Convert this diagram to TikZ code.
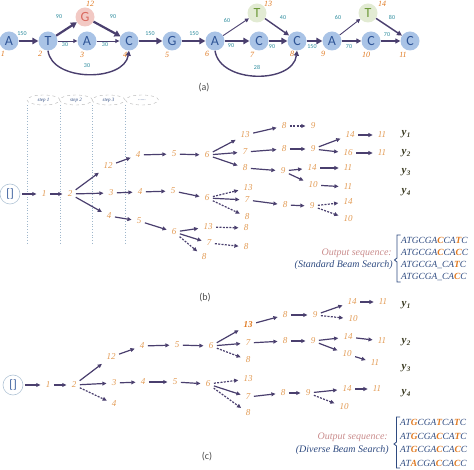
\documentclass[tikz,border=0pt]{standalone}
\usepackage{fontspec}
\setmainfont{Liberation Serif}
\newfontfamily\sansf{Carlito}
\usetikzlibrary{arrows.meta,shapes.geometric}
\definecolor{cfill}{HTML}{A9C3E6}
\definecolor{cletter}{HTML}{2F5597}
\definecolor{gfill}{HTML}{F2C9C4}
\definecolor{gletter}{HTML}{D9695F}
\definecolor{tfill}{HTML}{E2EBD3}
\definecolor{tletter}{HTML}{6E9A3A}
\definecolor{carrow}{HTML}{4A3F6E}
\definecolor{cteal}{HTML}{2A8A9C}
\definecolor{cidx}{HTML}{E07A22}
\definecolor{cnum}{HTML}{E29B55}
\definecolor{cyl}{HTML}{3A3A22}
\definecolor{cseq}{HTML}{2E4A80}
\definecolor{crose}{HTML}{C98C8C}
\definecolor{cstep}{HTML}{9FB7CC}
\newcommand\oc[1]{{\bfseries\color{cidx}#1}}
\newcommand\ysub[1]{{\bfseries\itshape y\kern0.3pt\raisebox{-2pt}{\fontsize{7}{7}\selectfont #1}}}
\tikzset{
 base/.style={circle, fill=cfill, minimum size=19pt, inner sep=0pt, font=\sansf\fontsize{14}{14}\selectfont, text=cletter},
 gbase/.style={base, fill=gfill, text=gletter},
 tbase/.style={base, fill=tfill, text=tletter},
 idx/.style={font=\itshape\fontsize{8}{8}\selectfont, text=cidx, inner sep=0pt},
 wt/.style={font=\sansf\fontsize{6}{6}\selectfont, text=cteal, inner sep=0pt},
 wA/.style={draw=carrow, line width=2.2pt, -{Triangle[length=6pt,width=6.5pt]}},
 wB/.style={draw=carrow, line width=1.4pt, -{Triangle[length=5pt,width=5pt]}},
 wC/.style={draw=carrow, line width=0.9pt, -{Triangle[length=4pt,width=4pt]}},
 num/.style={font=\itshape\fontsize{9}{9}\selectfont, text=cnum, inner sep=2pt},
 bnum/.style={num, font=\bfseries\itshape\fontsize{9}{9}\selectfont, text=cidx},
 sa/.style={draw=carrow, line width=1.2pt, -{Triangle[length=4.2pt,width=3.8pt]}, shorten >=3pt, shorten <=1.5pt},
 da/.style={sa, dash pattern=on 2pt off 1.3pt},
 yl/.style={font=\fontsize{11}{11}\selectfont, text=cyl, inner sep=0pt},
 start/.style={circle, draw=cstep!80, line width=0.6pt, minimum size=20pt, inner sep=0pt, font=\sansf\fontsize{12}{12}\selectfont, text=cletter},
 stepbox/.style={ellipse, draw=gray!60, dashed, line width=0.4pt, minimum width=33pt, minimum height=10pt, inner sep=0pt, font=\itshape\fontsize{5}{5}\selectfont, text=cseq},
 vline/.style={draw=cstep, dotted, line width=0.7pt},
 seq/.style={font=\itshape\fontsize{9.4}{9.4}\selectfont, text=cseq, inner sep=0pt, anchor=west},
 outl/.style={font=\itshape\fontsize{10}{10}\selectfont, text=crose, inner sep=0pt, anchor=east},
 meth/.style={font=\itshape\fontsize{10}{10}\selectfont, text=cseq, inner sep=0pt, anchor=east},
 plab/.style={font=\sansf\fontsize{10}{10}\selectfont, text=black!70, inner sep=0pt}
}
\begin{document}
\begin{tikzpicture}[x=1pt,y=-1pt]
\useasboundingbox (0,0) rectangle (474,470);
% ---------------- (a) ----------------
\node[base] (a1) at (9,41) {A};
\node[base] (a2) at (48,41) {T};
\node[base] (a3) at (87,41) {A};
\node[base] (a4) at (129,41) {C};
\node[base] (a5) at (172,41) {G};
\node[base] (a6) at (215,41) {A};
\node[base] (a7) at (259,41) {C};
\node[base] (a8) at (297,41) {C};
\node[base] (a9) at (332,41) {A};
\node[base] (a10) at (371,41) {C};
\node[base] (a11) at (410,41) {C};
\node[gbase] (a12) at (85,17) {G};
\node[tbase] (a13) at (257,13) {T};
\node[tbase] (a14) at (368,13) {T};
\draw[wA] (a1) -- (a2);
\draw[wA] (a2) -- (a12);
\draw[wA] (a12) -- (a4);
\draw[wC] (a2) -- (a3);
\draw[wC] (a3) -- (a4);
\draw[wB] (a2.south) .. controls (52,82) and (124,82) .. (a4.south);
\draw[wA] (a4) -- (a5);
\draw[wA] (a5) -- (a6);
\draw[wC] (a6) -- (a13);
\draw[wA] (a6) -- (a7);
\draw[wA] (a7) -- (a8);
\draw[wB] (a13) -- (a8);
\draw[wB] (a6.south) .. controls (220,84) and (293,84) .. (a8.south);
\draw[wA] (a8) -- (a9);
\draw[wC] (a9) -- (a14);
\draw[wB] (a9) -- (a10);
\draw[wB] (a10) -- (a11);
\draw[wB] (a14) -- (a11);
% indices
\node[idx] (i1) at (3,54) {1};
\node[idx] (i2) at (40,54) {2};
\node[idx] (i3) at (82,55) {3};
\node[idx] (i4) at (125,55) {4};
\node[idx] (i5) at (167,55) {5};
\node[idx] (i6) at (207,54) {6};
\node[idx] (i7) at (252,55) {7};
\node[idx] (i8) at (292,54) {8};
\node[idx] (i9) at (323,54) {9};
\node[idx] (i10) at (366,55) {10};
\node[idx] (i11) at (403,55) {11};
\node[idx] (i12) at (90,4) {12};
\node[idx] (i13) at (268,4) {13};
\node[idx] (i14) at (382,4) {14};
% weights
\node[wt] (w1) at (22,34) {150};
\node[wt] (w2) at (59,17) {90};
\node[wt] (w3) at (113,17) {90};
\node[wt] (w4) at (65,45) {30};
\node[wt] (w5) at (105,45) {30};
\node[wt] (w6) at (87,66) {30};
\node[wt] (w7) at (150,34) {150};
\node[wt] (w8) at (194,34) {150};
\node[wt] (w9) at (227,21) {60};
\node[wt] (w10) at (231,46) {90};
\node[wt] (w11) at (272,47) {90};
\node[wt] (w12) at (283,18) {40};
\node[wt] (w13) at (312,47) {150};
\node[wt] (w14) at (257,67) {28};
\node[wt] (w15) at (338,18) {60};
\node[wt] (w16) at (349,47) {70};
\node[wt] (w17) at (387,35) {70};
\node[wt] (w18) at (392,17) {80};
\node[plab] (pa) at (204,88) {(a)};
% ---------------- (b) ----------------
\node[stepbox] (s1) at (43.5,100) {step 1};
\node[stepbox] (s2) at (76,100) {step 2};
\node[stepbox] (s3) at (108.5,100) {step 3};
\node[stepbox] (s4) at (142,100) {......};
\coordinate (l1t) at (27,105); \coordinate (l1b) at (27,243);
\coordinate (l2t) at (60,105); \coordinate (l2b) at (60,243);
\coordinate (l3t) at (92,105); \coordinate (l3b) at (92,243);
\coordinate (l4t) at (125,105); \coordinate (l4b) at (125,243);
\draw[vline] (l1t) -- (l1b);
\draw[vline] (l2t) -- (l2b);
\draw[vline] (l3t) -- (l3b);
\draw[vline] (l4t) -- (l4b);

\node[start] (b0) at (10,194) {[]};
\node[num] (b1) at (44,194) {1};
\node[num] (b2) at (70,194) {2};
\node[num] (b12) at (108,166) {12};
\node[num] (b3) at (111,193) {3};
\node[num] (b4c) at (109,216) {4};
\node[num] (b4a) at (138,155) {4};
\node[num] (b5a) at (174,154) {5};
\node[num] (b6a) at (207,155) {6};
\node[num] (b4b) at (140,192) {4};
\node[num] (b5b) at (173,191) {5};
\node[num] (b6b) at (207,198) {6};
\node[num] (b5c) at (139,221) {5};
\node[num] (b6c) at (174,232) {6};
\node[num] (b13a) at (245,135) {13};
\node[num] (b7a) at (245,152) {7};
\node[num] (b8a) at (245,168) {8};
\node[num] (b8aa) at (284,126) {8};
\node[num] (b9aa) at (313,126) {9};
\node[num] (b8ab) at (284,149) {8};
\node[num] (b9ab) at (313,149) {9};
\node[num] (b14ab) at (350,135) {14};
\node[num] (b11ab) at (382,135) {11};
\node[num] (b16) at (348,153) {16};
\node[num] (b11ac) at (382,153) {11};
\node[num] (b9ac) at (283,171) {9};
\node[num] (b14ac) at (312,168) {14};
\node[num] (b11ad) at (348,168) {11};
\node[num] (b10ac) at (313,185) {10};
\node[num] (b11ae) at (348,187) {11};
\node[num] (b13b) at (248,188) {13};
\node[num] (b7b) at (247,200) {7};
\node[num] (b8b) at (247,217) {8};
\node[num] (b8bb) at (285,205) {8};
\node[num] (b9bb) at (312,206) {9};
\node[num] (b14bb) at (348,202) {14};
\node[num] (b10bb) at (348,219) {10};
\node[num] (b13c) at (208,227) {13};
\node[num] (b7c) at (209,243) {7};
\node[num] (b8c) at (204,257) {8};
\node[num] (b8cc) at (246,228) {8};
\node[num] (b8cd) at (246,247) {8};
\draw[sa] (b0) -- (b1);
\draw[sa] (b1) -- (b2);
\draw[sa] (b2) -- (b12);
\draw[sa] (b2) -- (b3);
\draw[sa] (b2) -- (b4c);
\draw[sa] (b12) -- (b4a);
\draw[sa] (b4a) -- (b5a);
\draw[sa] (b5a) -- (b6a);
\draw[sa] (b3) -- (b4b);
\draw[sa] (b4b) -- (b5b);
\draw[sa] (b5b) -- (b6b);
\draw[sa] (b4c) -- (b5c);
\draw[sa] (b5c) -- (b6c);
\draw[sa] (b6a) -- (b13a);
\draw[sa] (b6a) -- (b7a);
\draw[sa] (b6a) -- (b8a);
\draw[sa] (b13a) -- (b8aa);
\draw[da] (b8aa) -- (b9aa);
\draw[sa] (b7a) -- (b8ab);
\draw[sa] (b8ab) -- (b9ab);
\draw[sa] (b9ab) -- (b14ab);
\draw[sa] (b9ab) -- (b16);
\draw[sa] (b14ab) -- (b11ab);
\draw[sa] (b16) -- (b11ac);
\draw[sa] (b8a) -- (b9ac);
\draw[sa] (b9ac) -- (b14ac);
\draw[sa] (b9ac) -- (b10ac);
\draw[sa] (b14ac) -- (b11ad);
\draw[sa] (b10ac) -- (b11ae);
\draw[da] (b6b) -- (b13b);
\draw[sa] (b6b) -- (b7b);
\draw[da] (b6b) -- (b8b);
\draw[sa] (b7b) -- (b8bb);
\draw[sa] (b8bb) -- (b9bb);
\draw[da] (b9bb) -- (b14bb);
\draw[da] (b9bb) -- (b10bb);
\draw[sa] (b6c) -- (b13c);
\draw[sa] (b6c) -- (b7c);
\draw[da] (b6c) -- (b8c);
\draw[da] (b13c) -- (b8cc);
\draw[da] (b7c) -- (b8cd);
\node[yl] (by1) at (406,134) {\ysub{1}};
\node[yl] (by2) at (406,153) {\ysub{2}};
\node[yl] (by3) at (406,172) {\ysub{3}};
\node[yl] (by4) at (406,192) {\ysub{4}};
\node[outl] (bo) at (392,253) {Output sequence:};
\node[meth] (bm) at (393,265) {(Standard Beam Search)};
\draw[cseq, line width=0.8pt] (400.5,235) -- (397,235) -- (397,258) -- (394.5,260) -- (397,262) -- (397,282) -- (400.5,282);
\node[seq] (bs1) at (401,240) {ATGCGA\oc{C}CA\oc{T}C};
\node[seq] (bs2) at (401,252.5) {ATGCGA\oc{C}CA\oc{C}C};
\node[seq] (bs3) at (401,265) {ATGCGA\_CA\oc{T}C};
\node[seq] (bs4) at (401,277) {ATGCGA\_CA\oc{C}C};
\node[plab] (pb) at (205,298) {(b)};
% ---------------- (c) ----------------
\node[start] (c0) at (13,385) {[]};
\node[num] (c1) at (48,385) {1};
\node[num] (c2) at (74,385) {2};
\node[num] (c12) at (111,357) {12};
\node[num] (c3) at (114,383) {3};
\node[num] (c4c) at (114,404) {4};
\node[num] (c4a) at (142,346) {4};
\node[num] (c5a) at (177,345) {5};
\node[num] (c6a) at (211,346) {6};
\node[num] (c4b) at (143,382) {4};
\node[num] (c5b) at (175,382) {5};
\node[num] (c6b) at (208,384) {6};
\node[bnum] (c13a) at (248,325) {13};
\node[num] (c7a) at (248,343) {7};
\node[num] (c8a) at (248,360) {8};
\node[num] (c8aa) at (285,315) {8};
\node[num] (c9aa) at (315,315) {9};
\node[num] (c14aa) at (352,302) {14};
\node[num] (c11aa) at (383,302) {11};
\node[num] (c10aa) at (353,319) {10};
\node[num] (c8ab) at (285,341) {8};
\node[num] (c9ab) at (313,341) {9};
\node[num] (c14ab) at (348,337) {14};
\node[num] (c11ab) at (382,341) {11};
\node[num] (c10ab) at (347,354) {10};
\node[num] (c11ac) at (375,363) {11};
\node[num] (c13b) at (248,379) {13};
\node[num] (c7b) at (248,397) {7};
\node[num] (c8b) at (248,413) {8};
\node[num] (c8bb) at (283,393) {8};
\node[num] (c9bb) at (308,393) {9};
\node[num] (c14bb) at (347,389) {14};
\node[num] (c11bb) at (377,389) {11};
\node[num] (c10bb) at (344,407) {10};
\draw[sa] (c0) -- (c1);
\draw[sa] (c1) -- (c2);
\draw[sa] (c2) -- (c12);
\draw[sa] (c2) -- (c3);
\draw[da] (c2) -- (c4c);
\draw[sa] (c12) -- (c4a);
\draw[sa] (c4a) -- (c5a);
\draw[sa] (c5a) -- (c6a);
\draw[sa] (c3) -- (c4b);
\draw[sa] (c4b) -- (c5b);
\draw[sa] (c5b) -- (c6b);
\draw[sa] (c6a) -- (c13a);
\draw[sa] (c6a) -- (c7a);
\draw[da] (c6a) -- (c8a);
\draw[sa] (c13a) -- (c8aa);
\draw[sa] (c8aa) -- (c9aa);
\draw[sa] (c9aa) -- (c14aa);
\draw[da] (c9aa) -- (c10aa);
\draw[sa] (c14aa) -- (c11aa);
\draw[sa] (c7a) -- (c8ab);
\draw[sa] (c8ab) -- (c9ab);
\draw[sa] (c9ab) -- (c14ab);
\draw[sa] (c9ab) -- (c10ab);
\draw[sa] (c14ab) -- (c11ab);
\draw[sa] (c10ab) -- (c11ac);
\draw[da] (c6b) -- (c13b);
\draw[sa] (c6b) -- (c7b);
\draw[da] (c6b) -- (c8b);
\draw[sa] (c7b) -- (c8bb);
\draw[sa] (c8bb) -- (c9bb);
\draw[sa] (c9bb) -- (c14bb);
\draw[da] (c9bb) -- (c10bb);
\draw[sa] (c14bb) -- (c11bb);
\node[yl] (cy1) at (406,305) {\ysub{1}};
\node[yl] (cy2) at (406,342) {\ysub{2}};
\node[yl] (cy3) at (406,368) {\ysub{3}};
\node[yl] (cy4) at (406,393) {\ysub{4}};
\node[outl] (co) at (388,437) {Output sequence:};
\node[meth] (cm) at (389,450) {(Diverse Beam Search)};
\draw[cseq, line width=0.8pt] (400,417) -- (396.5,417) -- (396.5,442) -- (394,444) -- (396.5,446) -- (396.5,468) -- (400,468);
\node[seq] (cs1) at (400,422) {AT\oc{G}CGA\oc{T}CA\oc{T}C};
\node[seq] (cs2) at (400,436) {AT\oc{G}CGA\oc{C}CA\oc{T}C};
\node[seq] (cs3) at (400,449.5) {AT\oc{G}CGA\oc{C}CA\oc{C}C};
\node[seq] (cs4) at (400,463) {AT\oc{A}CGA\oc{C}CA\oc{C}C};
\node[plab] (pc) at (207,457) {(c)};
\end{tikzpicture}
\end{document}
